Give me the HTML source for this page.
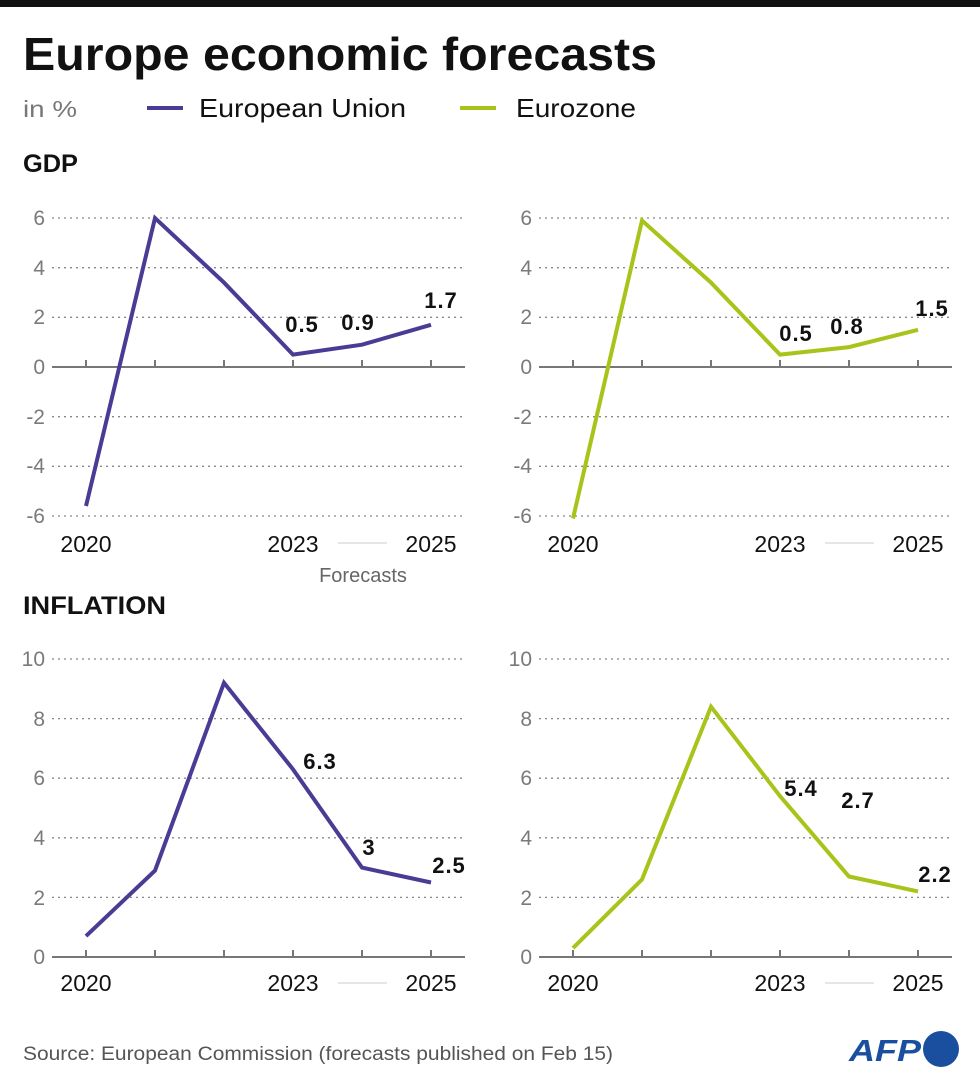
<!DOCTYPE html>
<html><head><meta charset="utf-8"><style>
html,body{margin:0;padding:0;background:#fff;}
svg{display:block;font-family:"Liberation Sans",sans-serif;}
.yl{font-size:21px;fill:#7a7a7a;text-anchor:end;}
.xl{font-size:23px;fill:#111;text-anchor:middle;}
.grid{stroke:#888;stroke-width:1.3;stroke-dasharray:2 4;}
.ax{stroke:#777;stroke-width:2;}
.val{font-size:22px;font-weight:bold;fill:#111;text-anchor:middle;letter-spacing:1px;}
.eu{fill:none;stroke:#4b3b95;stroke-width:4;stroke-linejoin:miter;}
.ez{fill:none;stroke:#a8c41a;stroke-width:4;stroke-linejoin:miter;}
</style></head><body>
<svg width="980" height="1088" viewBox="0 0 980 1088">
<rect x="0" y="0" width="980" height="7" fill="#111"/>
<text x="23" y="70" font-size="46" font-weight="bold" fill="#111" textLength="634" lengthAdjust="spacingAndGlyphs">Europe economic forecasts</text>
<text x="23" y="117" font-size="23" fill="#777" textLength="54" lengthAdjust="spacingAndGlyphs">in %</text>
<line x1="147" y1="108" x2="183" y2="108" stroke="#4b3b95" stroke-width="4"/>
<text x="199" y="117" font-size="26" fill="#111" textLength="207" lengthAdjust="spacingAndGlyphs">European Union</text>
<line x1="460" y1="108" x2="496" y2="108" stroke="#a8c41a" stroke-width="4"/>
<text x="516" y="117" font-size="26" fill="#111" textLength="120" lengthAdjust="spacingAndGlyphs">Eurozone</text>
<text x="23" y="172" font-size="25" font-weight="bold" fill="#111" textLength="55" lengthAdjust="spacingAndGlyphs">GDP</text>
<text x="23" y="614" font-size="25" font-weight="bold" fill="#111" textLength="143" lengthAdjust="spacingAndGlyphs">INFLATION</text>

<!-- GDP left -->
<g>
<g class="grid"><line x1="52" x2="463" y1="218" y2="218"/><line x1="52" x2="463" y1="267.7" y2="267.7"/><line x1="52" x2="463" y1="317.3" y2="317.3"/><line x1="52" x2="463" y1="416.7" y2="416.7"/><line x1="52" x2="463" y1="466.3" y2="466.3"/><line x1="52" x2="463" y1="516" y2="516"/></g>
<line class="ax" x1="52" x2="465" y1="367" y2="367"/>
<g class="ax" stroke-width="1.5"><line x1="86" x2="86" y1="360" y2="367"/><line x1="155" x2="155" y1="360" y2="367"/><line x1="224" x2="224" y1="360" y2="367"/><line x1="293" x2="293" y1="360" y2="367"/><line x1="362" x2="362" y1="360" y2="367"/><line x1="431" x2="431" y1="360" y2="367"/></g>
<g class="yl"><text x="45" y="225">6</text><text x="45" y="275">4</text><text x="45" y="324">2</text><text x="45" y="374">0</text><text x="45" y="424">-2</text><text x="45" y="473">-4</text><text x="45" y="523">-6</text></g>
<polyline class="eu" points="86,506 155,218 224,282.6 293,354.6 362,344.7 431,324.8"/>
<g class="val"><text x="302" y="332">0.5</text><text x="358" y="330">0.9</text><text x="441" y="308">1.7</text></g>
<g class="xl"><text x="86" y="552">2020</text><text x="293" y="552">2023</text><text x="431" y="552">2025</text></g>
<line x1="338" x2="387" y1="543" y2="543" stroke="#ccc" stroke-width="1"/>
<text x="363" y="582" font-size="20" fill="#666" text-anchor="middle">Forecasts</text>
</g>

<!-- GDP right -->
<g transform="translate(487,0)">
<g class="grid"><line x1="52" x2="463" y1="218" y2="218"/><line x1="52" x2="463" y1="267.7" y2="267.7"/><line x1="52" x2="463" y1="317.3" y2="317.3"/><line x1="52" x2="463" y1="416.7" y2="416.7"/><line x1="52" x2="463" y1="466.3" y2="466.3"/><line x1="52" x2="463" y1="516" y2="516"/></g>
<line class="ax" x1="52" x2="465" y1="367" y2="367"/>
<g class="ax" stroke-width="1.5"><line x1="86" x2="86" y1="360" y2="367"/><line x1="155" x2="155" y1="360" y2="367"/><line x1="224" x2="224" y1="360" y2="367"/><line x1="293" x2="293" y1="360" y2="367"/><line x1="362" x2="362" y1="360" y2="367"/><line x1="431" x2="431" y1="360" y2="367"/></g>
<g class="yl"><text x="45" y="225">6</text><text x="45" y="275">4</text><text x="45" y="324">2</text><text x="45" y="374">0</text><text x="45" y="424">-2</text><text x="45" y="473">-4</text><text x="45" y="523">-6</text></g>
<polyline class="ez" points="86,518.5 155,220.5 224,282.6 293,354.6 362,347.1 431,329.8"/>
<g class="val"><text x="309" y="341">0.5</text><text x="360" y="334">0.8</text><text x="445" y="316">1.5</text></g>
<g class="xl"><text x="86" y="552">2020</text><text x="293" y="552">2023</text><text x="431" y="552">2025</text></g>
<line x1="338" x2="387" y1="543" y2="543" stroke="#ccc" stroke-width="1"/>
</g>

<!-- Inflation left -->
<g>
<g class="grid"><line x1="52" x2="463" y1="659" y2="659"/><line x1="52" x2="463" y1="718.6" y2="718.6"/><line x1="52" x2="463" y1="778.2" y2="778.2"/><line x1="52" x2="463" y1="837.8" y2="837.8"/><line x1="52" x2="463" y1="897.4" y2="897.4"/></g>
<line class="ax" x1="52" x2="465" y1="957" y2="957"/>
<g class="ax" stroke-width="1.5"><line x1="86" x2="86" y1="950" y2="957"/><line x1="155" x2="155" y1="950" y2="957"/><line x1="224" x2="224" y1="950" y2="957"/><line x1="293" x2="293" y1="950" y2="957"/><line x1="362" x2="362" y1="950" y2="957"/><line x1="431" x2="431" y1="950" y2="957"/></g>
<g class="yl"><text x="45" y="666">10</text><text x="45" y="726">8</text><text x="45" y="785">6</text><text x="45" y="845">4</text><text x="45" y="905">2</text><text x="45" y="964">0</text></g>
<polyline class="eu" points="86,936.1 155,870.6 224,682.8 293,769.3 362,867.6 431,882.5"/>
<g class="val"><text x="320" y="769">6.3</text><text x="369" y="855">3</text><text x="449" y="873">2.5</text></g>
<g class="xl"><text x="86" y="991">2020</text><text x="293" y="991">2023</text><text x="431" y="991">2025</text></g>
<line x1="338" x2="387" y1="983" y2="983" stroke="#ccc" stroke-width="1"/>
</g>

<!-- Inflation right -->
<g transform="translate(487,0)">
<g class="grid"><line x1="52" x2="463" y1="659" y2="659"/><line x1="52" x2="463" y1="718.6" y2="718.6"/><line x1="52" x2="463" y1="778.2" y2="778.2"/><line x1="52" x2="463" y1="837.8" y2="837.8"/><line x1="52" x2="463" y1="897.4" y2="897.4"/></g>
<line class="ax" x1="52" x2="465" y1="957" y2="957"/>
<g class="ax" stroke-width="1.5"><line x1="86" x2="86" y1="950" y2="957"/><line x1="155" x2="155" y1="950" y2="957"/><line x1="224" x2="224" y1="950" y2="957"/><line x1="293" x2="293" y1="950" y2="957"/><line x1="362" x2="362" y1="950" y2="957"/><line x1="431" x2="431" y1="950" y2="957"/></g>
<g class="yl"><text x="45" y="666">10</text><text x="45" y="726">8</text><text x="45" y="785">6</text><text x="45" y="845">4</text><text x="45" y="905">2</text><text x="45" y="964">0</text></g>
<polyline class="ez" points="86,948.1 155,879.5 224,706.7 293,796.1 362,876.5 431,891.4"/>
<g class="val"><text x="314" y="796">5.4</text><text x="371" y="808">2.7</text><text x="448" y="882">2.2</text></g>
<g class="xl"><text x="86" y="991">2020</text><text x="293" y="991">2023</text><text x="431" y="991">2025</text></g>
<line x1="338" x2="387" y1="983" y2="983" stroke="#ccc" stroke-width="1"/>
</g>

<text x="23" y="1060" font-size="19" fill="#555" textLength="590" lengthAdjust="spacingAndGlyphs">Source: European Commission (forecasts published on Feb 15)</text>
<text x="849" y="1061" font-size="31" font-weight="bold" font-style="italic" fill="#1a4fa0" textLength="72" lengthAdjust="spacingAndGlyphs">AFP</text>
<circle cx="941" cy="1049" r="18" fill="#1a4fa0"/>
</svg>
</body></html>
